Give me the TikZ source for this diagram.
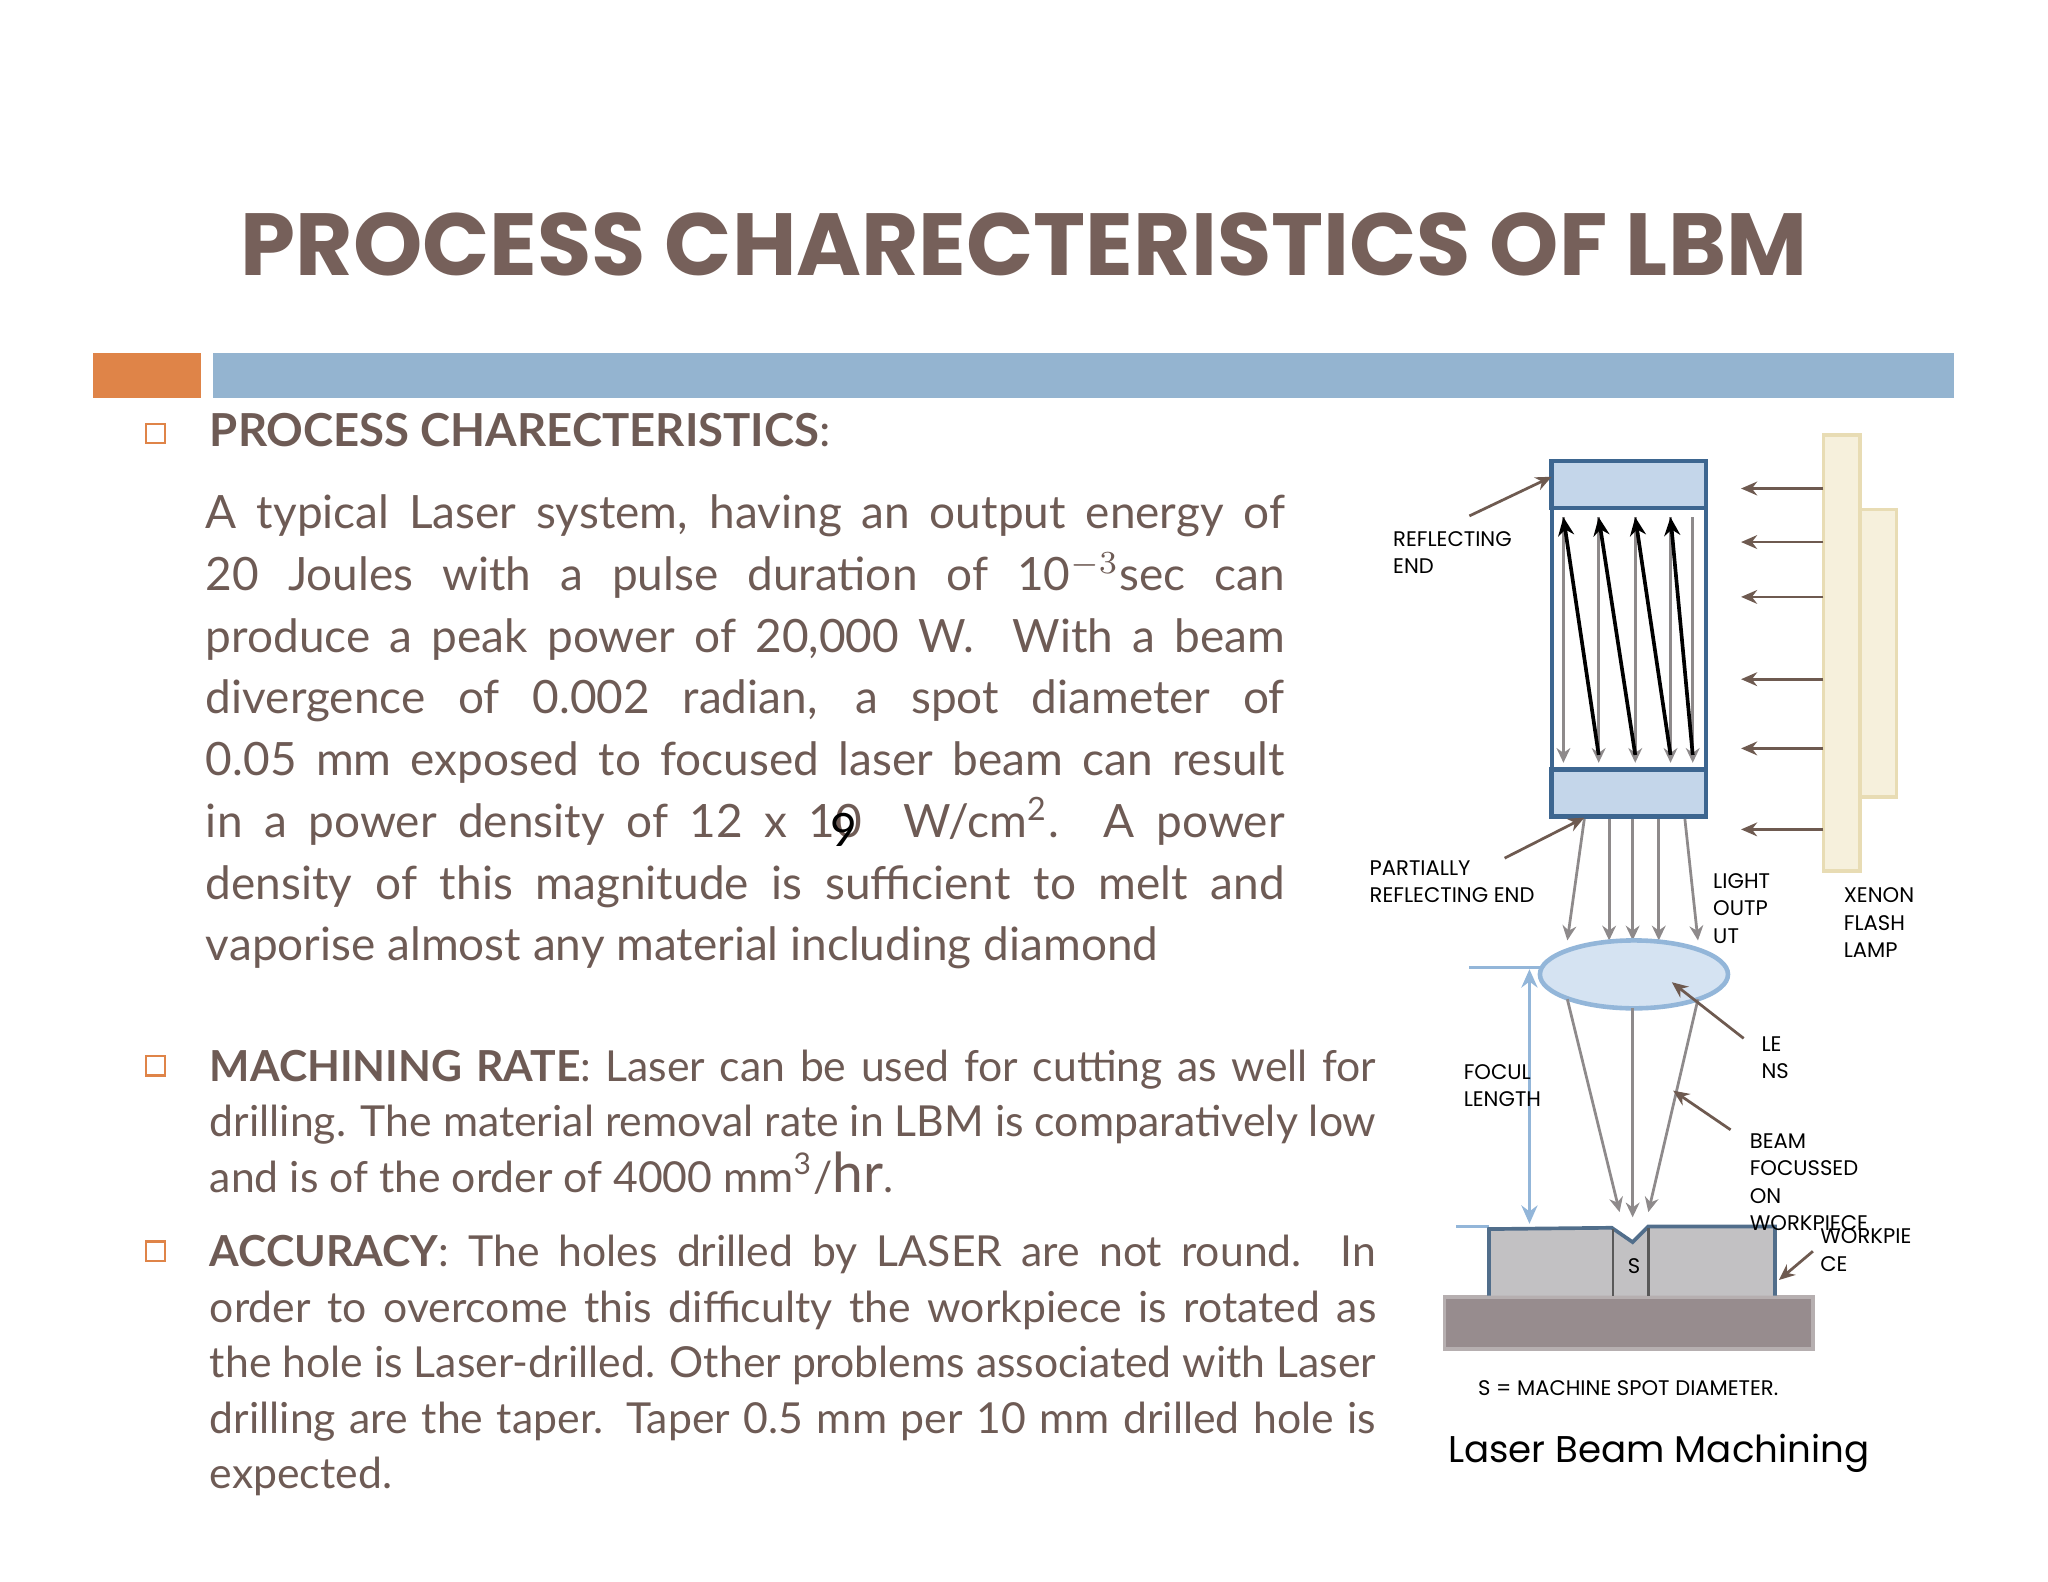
\documentclass[tikz,border=0pt]{standalone}
\usepackage{fontspec}
\setmainfont{Poppins}
\newfontfamily\bodyfont{Lato}
\usetikzlibrary{arrows.meta, shapes.geometric}
\definecolor{titlebrown}{HTML}{76605A}
\definecolor{bodybrown}{HTML}{6E5B55}
\definecolor{barorange}{HTML}{DF8448}
\definecolor{barblue}{HTML}{94B4D0}
\definecolor{capblue}{HTML}{C4D6EA}
\definecolor{tubeblue}{HTML}{3D6690}
\definecolor{lampfill}{HTML}{F6F0DC}
\definecolor{lampline}{HTML}{E8DCB4}
\definecolor{beamgrey}{HTML}{8E8A8B}
\definecolor{lensfill}{HTML}{D5E3F2}
\definecolor{lensline}{HTML}{93B6D9}
\definecolor{workgrey}{HTML}{C2C1C3}
\definecolor{basegrey}{HTML}{978C8E}
\definecolor{pointer}{HTML}{6E5A50}
\begin{document}
\begin{tikzpicture}[x=0.01cm, y=-0.01cm,
    para/.style = {anchor=north west, inner sep=0pt, align=justify, text=bodybrown, font=\bodyfont\fontsize{10}{13.45}\selectfont},
    bullet/.style = {draw=barorange, line width=0.5pt, minimum size=4.2pt, inner sep=0pt},
    lbl/.style = {anchor=north west, inner sep=0pt, align=left, font=\fontsize{4.6}{6}\selectfont},
    beam/.style = {draw=beamgrey, line width=0.6pt, -{Stealth[length=3.2pt, width=3pt]}},
    ptr/.style = {draw=pointer, line width=0.6pt, -{Stealth[length=3.5pt, width=3pt]}}]
    \useasboundingbox (0,0) rectangle (1568,1211);

    % title and bars
    \node (title) [text=titlebrown, font=\fontsize{19.2}{24}\bfseries\selectfont] at (784,187) {PROCESS CHARECTERISTICS OF LBM};
    \fill [barorange] (71,270) rectangle (154,305);
    \fill [barblue] (163,270) rectangle (1496,305);

    % bullets and text
    \foreach \y/\n in {332/b1, 816/b2, 958/b3}
    {
      \node (\n) [bullet] at (119,\y) {};
    }
    \node (head) [anchor=west, inner sep=0pt, text=bodybrown, font=\bodyfont\fontsize{9.9}{13}\bfseries\selectfont] at (160,329) {PROCESS CHARECTERISTICS\textmd{:}};
    \node (p1) [para, text width=826*0.01cm] at (157,378) {A typical Laser system, having an output energy of\linebreak
      20 Joules with a pulse duration of 10$^{\mathbf{-}3}$sec can\linebreak
      produce a peak power of 20,000 W.\ \ With a beam\linebreak
      divergence of 0.002 radian, a spot diameter of\linebreak
      0.05 mm exposed to focused laser beam can result\linebreak
      in a power density of 12 x 1\rlap{0}\raisebox{-2pt}{\kern-1pt\color{black}9}\quad W/cm\textsuperscript{2}. A power\linebreak
      density of this magnitude is sufficient to melt and\linebreak
      vaporise almost any material including diamond\par};
    \node (p2) [para, text width=893*0.01cm, font=\bodyfont\fontsize{9.3}{12.1}\selectfont] at (160,803) {\textbf{MACHINING RATE}: Laser can be used for cutting as well for\linebreak
      drilling. The material removal rate in LBM is comparatively low\linebreak
      and is of the order of 4000 mm\textsuperscript{3}/{\large hr}.\par};
    \node (p3) [para, text width=893*0.01cm, font=\bodyfont\fontsize{9.3}{12.1}\selectfont] at (160,945) {\textbf{ACCURACY}: The holes drilled by LASER are not round. In\linebreak
      order to overcome this difficulty the workpiece is rotated as\linebreak
      the hole is Laser-drilled. Other problems associated with Laser\linebreak
      drilling are the taper. Taper 0.5 mm per 10 mm drilled hole is\linebreak
      expected.\par};

    % xenon flash lamp
    \draw [lampline, fill=lampfill, line width=0.8pt] (1396,333) rectangle (1424,667);
    \draw [lampline, fill=lampfill, line width=0.8pt] (1424,390) rectangle (1452,610);
    \foreach \y in {374,415,457,520,573,635}
    {
      \coordinate (ls\y) at (1396,\y);
      \coordinate (le\y) at (1333,\y);
      \draw [draw=pointer, line width=0.6pt, -{Stealth[length=3.5pt, width=3pt]}] (ls\y) -- (le\y);
    }

    % laser tube
    \draw [tubeblue, line width=0.8pt] (1188,353) rectangle (1306,625);
    \draw [tubeblue, fill=capblue, line width=1pt] (1188,353) rectangle (1306,389);
    \draw [tubeblue, fill=capblue, line width=1pt] (1188,589) rectangle (1306,625);
    \foreach \x in {1197,1224,1252,1279,1296}
    {
      \coordinate (gt\x) at (\x,396);
      \coordinate (gb\x) at (\x,584);
      \draw [beam] (gt\x) -- (gb\x);
    }
    \foreach \a/\b in {1224/1197,1252/1224,1279/1252,1296/1279}
    {
      \draw [line width=0.8pt, -{Stealth[length=4pt, width=3.5pt]}] (\a,578) -- (\b,396);
    }

    % light output
    \foreach \a/\b in {1213/1200,1232/1232,1250/1250,1270/1270,1290/1300}
    {
      \draw [beam] (\a,627) -- (\b,720);
    }

    % lens
    \node (lens) [ellipse, draw=lensline, fill=lensfill, line width=1pt, minimum width=144*0.01cm, minimum height=52*0.01cm] at (1251,746) {};
    \draw [beam] (1200,765) -- (1240,928);
    \draw [beam] (1250,772) -- (1250,932);
    \draw [beam] (1300,765) -- (1262,928);

    % focal length
    \draw [lensline, line width=0.6pt] (1125,741) -- (1182,741);
    \draw [lensline, line width=0.6pt] (1115,939) -- (1140,939);
    \draw [lensline, line width=0.8pt, {Stealth[length=4pt, width=3.5pt]}-{Stealth[length=4pt, width=3.5pt]}] (1171,742) -- (1171,937);

    % workpiece
    \fill [basegrey, draw=basegrey!70!white, line width=0.8pt] (1106,993) rectangle (1388,1033);
    \filldraw [workgrey, draw=tubeblue!70!gray, line width=0.8pt] (1140,992) -- (1140,941) -- (1234,940) -- (1250,951) -- (1262,939) -- (1359,939) -- (1359,992);
    \draw [gray!70!black, line width=0.6pt] (1235,941) -- (1235,992) (1262,940) -- (1262,992);
    \node (spot) [font=\fontsize{4.6}{6}\selectfont] at (1251,969) {S};

    % labels
    \node (refl) [lbl] at (1066,406) {REFLECTING\\END};
    \draw [ptr] (1125,395) -- (1188,365);
    \node (prefl) [lbl] at (1048,658) {PARTIALLY\\REFLECTING END};
    \draw [ptr] (1152,657) -- (1213,626);
    \node (light) [lbl] at (1311,668) {LIGHT\\OUTP\\UT};
    \node (xenon) [lbl] at (1411,679) {XENON\\FLASH\\LAMP};
    \node (lenslbl) [lbl] at (1348,793) {LE\\NS};
    \draw [ptr] (1335,795) -- (1280,752);
    \node (focul) [lbl] at (1120,814) {FOCUL\\LENGTH};
    \node (beamlbl) [lbl] at (1339,867) {BEAM\\FOCUSSED\\ON\\WORKPIECE};
    \draw [ptr] (1325,865) -- (1281,835);
    \node (work) [lbl] at (1393,940) {WORKPIE\\CE};
    \draw [ptr] (1388,958) -- (1362,980);
    \node (sdef) [lbl] at (1131,1056) {S = MACHINE SPOT DIAMETER.};
    \node (caption) [anchor=west, inner sep=0pt, font=\fontsize{8.1}{10}\selectfont] at (1108,1113) {Laser Beam Machining};
\end{tikzpicture}
\end{document}
